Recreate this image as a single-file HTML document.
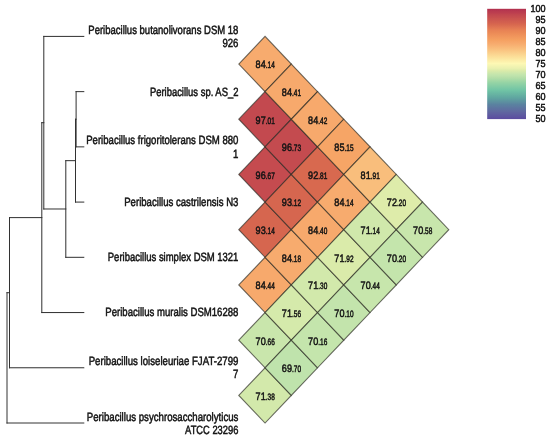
<!DOCTYPE html>
<html><head><meta charset="utf-8"><title>OrthoANI heatmap</title>
<style>
html,body{margin:0;padding:0;background:#fff;}
svg{display:block;}
text{text-rendering:geometricPrecision;font-family:"Liberation Sans",sans-serif;fill:#141414;stroke:#141414;stroke-width:0.5px;}
.lab{font-size:12px;}
.tree line{stroke:#303030;stroke-width:1.0;fill:none;stroke-linecap:square;}
.cell{stroke:#2a2a22;stroke-opacity:0.68;stroke-width:1.1;stroke-linejoin:miter;}
.leg{font-size:10.2px;}
.num{font-size:10.8px;}
.dec{font-size:9.3px;}
</style></head><body>
<svg width="550" height="438" viewBox="0 0 550 438">
<rect width="550" height="438" fill="#fff"/>
<defs><filter id="soft" x="0" y="0" width="550" height="438" filterUnits="userSpaceOnUse"><feGaussianBlur stdDeviation="0.35"/></filter></defs>
<g filter="url(#soft)">
<g class="tree"><line x1="76.10" y1="91.63" x2="83.80" y2="91.63"/><line x1="76.10" y1="146.86" x2="83.80" y2="146.86"/><line x1="76.10" y1="91.63" x2="76.10" y2="146.86"/><line x1="75.50" y1="119.24" x2="76.10" y2="119.24"/><line x1="75.50" y1="202.09" x2="83.80" y2="202.09"/><line x1="75.50" y1="119.24" x2="75.50" y2="202.09"/><line x1="65.80" y1="160.67" x2="75.50" y2="160.67"/><line x1="65.80" y1="257.32" x2="83.80" y2="257.32"/><line x1="65.80" y1="160.67" x2="65.80" y2="257.32"/><line x1="43.80" y1="36.40" x2="83.80" y2="36.40"/><line x1="43.80" y1="208.99" x2="65.80" y2="208.99"/><line x1="43.80" y1="36.40" x2="43.80" y2="208.99"/><line x1="41.80" y1="122.70" x2="43.80" y2="122.70"/><line x1="41.80" y1="312.55" x2="83.80" y2="312.55"/><line x1="41.80" y1="122.70" x2="41.80" y2="312.55"/><line x1="9.50" y1="217.62" x2="41.80" y2="217.62"/><line x1="9.50" y1="367.78" x2="83.80" y2="367.78"/><line x1="9.50" y1="217.62" x2="9.50" y2="367.78"/><line x1="7.00" y1="292.70" x2="9.50" y2="292.70"/><line x1="7.00" y1="423.01" x2="83.80" y2="423.01"/><line x1="7.00" y1="292.70" x2="7.00" y2="423.01"/></g>
<g class="lab">
<text transform="translate(238.39,34.00) scale(0.7923,1)" text-anchor="end">Peribacillus butanolivorans DSM 18</text>
<text transform="translate(238.42,47.10) scale(0.8000,1)" text-anchor="end">926</text>
<text transform="translate(238.39,95.53) scale(0.7849,1)" text-anchor="end">Peribacillus sp. AS_2</text>
<text transform="translate(238.40,144.46) scale(0.7979,1)" text-anchor="end">Peribacillus frigoritolerans DSM 880</text>
<text transform="translate(238.42,157.56) scale(0.8000,1)" text-anchor="end">1</text>
<text transform="translate(238.42,205.99) scale(0.8003,1)" text-anchor="end">Peribacillus castrilensis N3</text>
<text transform="translate(238.40,261.22) scale(0.7896,1)" text-anchor="end">Peribacillus simplex DSM 1321</text>
<text transform="translate(238.39,316.45) scale(0.7982,1)" text-anchor="end">Peribacillus muralis DSM16288</text>
<text transform="translate(238.39,365.38) scale(0.8025,1)" text-anchor="end">Peribacillus loiseleuriae FJAT-2799</text>
<text transform="translate(238.42,378.48) scale(0.8000,1)" text-anchor="end">7</text>
<text transform="translate(238.40,420.61) scale(0.8032,1)" text-anchor="end">Peribacillus psychrosaccharolyticus</text>
<text transform="translate(238.39,433.71) scale(0.7781,1)" text-anchor="end">ATCC 23296</text>
</g>
<g>
<polygon class="cell" points="238.80,64.02 265.05,36.40 291.30,64.02 265.05,91.63" fill="#f7ab6e"/>
<polygon class="cell" points="238.80,119.24 265.05,91.63 291.30,119.24 265.05,146.86" fill="#c34950"/>
<polygon class="cell" points="238.80,174.47 265.05,146.86 291.30,174.47 265.05,202.09" fill="#c54b50"/>
<polygon class="cell" points="238.80,229.70 265.05,202.09 291.30,229.70 265.05,257.32" fill="#d66650"/>
<polygon class="cell" points="238.80,284.93 265.05,257.32 291.30,284.93 265.05,312.55" fill="#f7a96c"/>
<polygon class="cell" points="238.80,340.16 265.05,312.55 291.30,340.16 265.05,367.78" fill="#c9e6ac"/>
<polygon class="cell" points="238.80,395.39 265.05,367.78 291.30,395.39 265.05,423.01" fill="#d3e9ab"/>
<polygon class="cell" points="265.05,91.63 291.30,64.02 317.55,91.63 291.30,119.24" fill="#f7a96c"/>
<polygon class="cell" points="265.05,146.86 291.30,119.25 317.55,146.86 291.30,174.48" fill="#c44b50"/>
<polygon class="cell" points="265.05,202.09 291.30,174.47 317.55,202.09 291.30,229.70" fill="#d66650"/>
<polygon class="cell" points="265.05,257.32 291.30,229.70 317.55,257.32 291.30,284.94" fill="#f7ab6e"/>
<polygon class="cell" points="265.05,312.55 291.30,284.93 317.55,312.55 291.30,340.16" fill="#d5eaab"/>
<polygon class="cell" points="265.05,367.78 291.30,340.16 317.55,367.78 291.30,395.39" fill="#bfe3ac"/>
<polygon class="cell" points="291.30,119.25 317.55,91.63 343.80,119.25 317.55,146.86" fill="#f7a96c"/>
<polygon class="cell" points="291.30,174.47 317.55,146.86 343.80,174.47 317.55,202.09" fill="#d86950"/>
<polygon class="cell" points="291.30,229.70 317.55,202.09 343.80,229.70 317.55,257.32" fill="#f7a96c"/>
<polygon class="cell" points="291.30,284.94 317.55,257.32 343.80,284.94 317.55,312.55" fill="#d2e9ab"/>
<polygon class="cell" points="291.30,340.16 317.55,312.55 343.80,340.16 317.55,367.78" fill="#c4e5ac"/>
<polygon class="cell" points="317.55,146.86 343.80,119.24 370.05,146.86 343.80,174.47" fill="#f6a566"/>
<polygon class="cell" points="317.55,202.09 343.80,174.47 370.05,202.09 343.80,229.70" fill="#f7ab6e"/>
<polygon class="cell" points="317.55,257.32 343.80,229.70 370.05,257.32 343.80,284.94" fill="#daebaa"/>
<polygon class="cell" points="317.55,312.55 343.80,284.93 370.05,312.55 343.80,340.16" fill="#c3e4ac"/>
<polygon class="cell" points="343.80,174.47 370.05,146.86 396.30,174.47 370.05,202.09" fill="#f9be7c"/>
<polygon class="cell" points="343.80,229.70 370.05,202.09 396.30,229.70 370.05,257.32" fill="#d0e8ab"/>
<polygon class="cell" points="343.80,284.93 370.05,257.32 396.30,284.93 370.05,312.55" fill="#c7e6ac"/>
<polygon class="cell" points="370.05,202.09 396.30,174.47 422.55,202.09 396.30,229.70" fill="#deecaa"/>
<polygon class="cell" points="370.05,257.32 396.30,229.70 422.55,257.32 396.30,284.93" fill="#c4e5ac"/>
<polygon class="cell" points="396.30,229.70 422.55,202.09 448.80,229.70 422.55,257.32" fill="#c8e6ac"/>
</g>
<g>
<text class="num" transform="translate(265.70,68.36) scale(0.84,1)" text-anchor="end">84</text><text class="dec" transform="translate(265.75,68.36) scale(0.695,1)">.14</text>
<text class="num" transform="translate(265.70,123.59) scale(0.84,1)" text-anchor="end">97</text><text class="dec" transform="translate(265.75,123.59) scale(0.695,1)">.01</text>
<text class="num" transform="translate(265.70,178.82) scale(0.84,1)" text-anchor="end">96</text><text class="dec" transform="translate(265.75,178.82) scale(0.695,1)">.67</text>
<text class="num" transform="translate(265.70,234.05) scale(0.84,1)" text-anchor="end">93</text><text class="dec" transform="translate(265.75,234.05) scale(0.695,1)">.14</text>
<text class="num" transform="translate(265.70,289.28) scale(0.84,1)" text-anchor="end">84</text><text class="dec" transform="translate(265.75,289.28) scale(0.695,1)">.44</text>
<text class="num" transform="translate(265.70,344.51) scale(0.84,1)" text-anchor="end">70</text><text class="dec" transform="translate(265.75,344.51) scale(0.695,1)">.66</text>
<text class="num" transform="translate(265.70,399.75) scale(0.84,1)" text-anchor="end">71</text><text class="dec" transform="translate(265.75,399.75) scale(0.695,1)">.38</text>
<text class="num" transform="translate(291.95,95.98) scale(0.84,1)" text-anchor="end">84</text><text class="dec" transform="translate(292.00,95.98) scale(0.695,1)">.41</text>
<text class="num" transform="translate(291.95,151.21) scale(0.84,1)" text-anchor="end">96</text><text class="dec" transform="translate(292.00,151.21) scale(0.695,1)">.73</text>
<text class="num" transform="translate(291.95,206.44) scale(0.84,1)" text-anchor="end">93</text><text class="dec" transform="translate(292.00,206.44) scale(0.695,1)">.12</text>
<text class="num" transform="translate(291.95,261.67) scale(0.84,1)" text-anchor="end">84</text><text class="dec" transform="translate(292.00,261.67) scale(0.695,1)">.18</text>
<text class="num" transform="translate(291.95,316.90) scale(0.84,1)" text-anchor="end">71</text><text class="dec" transform="translate(292.00,316.90) scale(0.695,1)">.56</text>
<text class="num" transform="translate(291.95,372.13) scale(0.84,1)" text-anchor="end">69</text><text class="dec" transform="translate(292.00,372.13) scale(0.695,1)">.70</text>
<text class="num" transform="translate(318.20,123.59) scale(0.84,1)" text-anchor="end">84</text><text class="dec" transform="translate(318.25,123.59) scale(0.695,1)">.42</text>
<text class="num" transform="translate(318.20,178.82) scale(0.84,1)" text-anchor="end">92</text><text class="dec" transform="translate(318.25,178.82) scale(0.695,1)">.81</text>
<text class="num" transform="translate(318.20,234.05) scale(0.84,1)" text-anchor="end">84</text><text class="dec" transform="translate(318.25,234.05) scale(0.695,1)">.40</text>
<text class="num" transform="translate(318.20,289.29) scale(0.84,1)" text-anchor="end">71</text><text class="dec" transform="translate(318.25,289.29) scale(0.695,1)">.30</text>
<text class="num" transform="translate(318.20,344.51) scale(0.84,1)" text-anchor="end">70</text><text class="dec" transform="translate(318.25,344.51) scale(0.695,1)">.16</text>
<text class="num" transform="translate(344.45,151.21) scale(0.84,1)" text-anchor="end">85</text><text class="dec" transform="translate(344.50,151.21) scale(0.695,1)">.15</text>
<text class="num" transform="translate(344.45,206.44) scale(0.84,1)" text-anchor="end">84</text><text class="dec" transform="translate(344.50,206.44) scale(0.695,1)">.14</text>
<text class="num" transform="translate(344.45,261.67) scale(0.84,1)" text-anchor="end">71</text><text class="dec" transform="translate(344.50,261.67) scale(0.695,1)">.92</text>
<text class="num" transform="translate(344.45,316.90) scale(0.84,1)" text-anchor="end">70</text><text class="dec" transform="translate(344.50,316.90) scale(0.695,1)">.10</text>
<text class="num" transform="translate(370.70,178.82) scale(0.84,1)" text-anchor="end">81</text><text class="dec" transform="translate(370.75,178.82) scale(0.695,1)">.91</text>
<text class="num" transform="translate(370.70,234.05) scale(0.84,1)" text-anchor="end">71</text><text class="dec" transform="translate(370.75,234.05) scale(0.695,1)">.14</text>
<text class="num" transform="translate(370.70,289.28) scale(0.84,1)" text-anchor="end">70</text><text class="dec" transform="translate(370.75,289.28) scale(0.695,1)">.44</text>
<text class="num" transform="translate(396.95,206.44) scale(0.84,1)" text-anchor="end">72</text><text class="dec" transform="translate(397.00,206.44) scale(0.695,1)">.20</text>
<text class="num" transform="translate(396.95,261.67) scale(0.84,1)" text-anchor="end">70</text><text class="dec" transform="translate(397.00,261.67) scale(0.695,1)">.20</text>
<text class="num" transform="translate(423.20,234.05) scale(0.84,1)" text-anchor="end">70</text><text class="dec" transform="translate(423.25,234.05) scale(0.695,1)">.58</text>
</g>
<defs><linearGradient id="lg" x1="0" y1="0" x2="0" y2="1"><stop offset="0.0000" stop-color="#b23050"/><stop offset="0.0600" stop-color="#c34950"/><stop offset="0.1400" stop-color="#d76750"/><stop offset="0.1940" stop-color="#e88254"/><stop offset="0.2800" stop-color="#f5a060"/><stop offset="0.3172" stop-color="#f7ab6e"/><stop offset="0.3620" stop-color="#f9be7c"/><stop offset="0.4400" stop-color="#fce19b"/><stop offset="0.4960" stop-color="#fdf8b4"/><stop offset="0.5440" stop-color="#e8f0af"/><stop offset="0.5560" stop-color="#deecaa"/><stop offset="0.5884" stop-color="#c8e6ac"/><stop offset="0.6060" stop-color="#bfe3ac"/><stop offset="0.6260" stop-color="#b4dea8"/><stop offset="0.6680" stop-color="#96d4a5"/><stop offset="0.7380" stop-color="#70c4a5"/><stop offset="0.8080" stop-color="#5fa5a0"/><stop offset="0.8680" stop-color="#5a82a0"/><stop offset="0.9280" stop-color="#5f69a0"/><stop offset="0.9920" stop-color="#5c4ea0"/><stop offset="1.0000" stop-color="#5c4ba0"/></linearGradient></defs>
<rect x="487.2" y="8.8" width="38.80" height="110.30" fill="url(#lg)"/>
<g class="leg">
<text transform="translate(545.6,12.10) scale(0.89,1)" text-anchor="end">100</text>
<text transform="translate(545.6,23.13) scale(0.89,1)" text-anchor="end">95</text>
<text transform="translate(545.6,34.16) scale(0.89,1)" text-anchor="end">90</text>
<text transform="translate(545.6,45.19) scale(0.89,1)" text-anchor="end">85</text>
<text transform="translate(545.6,56.22) scale(0.89,1)" text-anchor="end">80</text>
<text transform="translate(545.6,67.25) scale(0.89,1)" text-anchor="end">75</text>
<text transform="translate(545.6,78.28) scale(0.89,1)" text-anchor="end">70</text>
<text transform="translate(545.6,89.31) scale(0.89,1)" text-anchor="end">65</text>
<text transform="translate(545.6,100.34) scale(0.89,1)" text-anchor="end">60</text>
<text transform="translate(545.6,111.37) scale(0.89,1)" text-anchor="end">55</text>
<text transform="translate(545.6,122.40) scale(0.89,1)" text-anchor="end">50</text>
</g>
</g></svg></body></html>
